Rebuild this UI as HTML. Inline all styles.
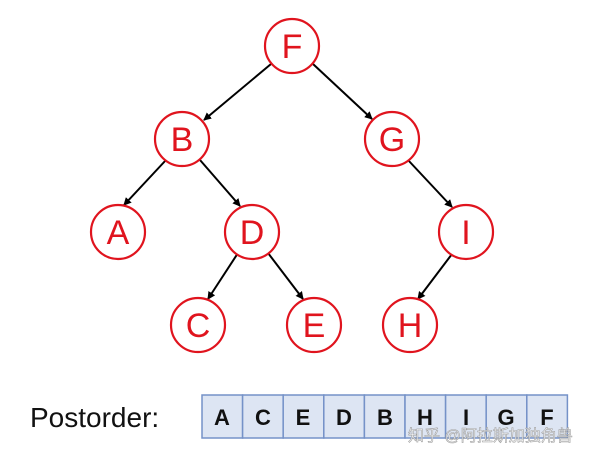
<!DOCTYPE html>
<html><head><meta charset="utf-8"><style>
html,body{margin:0;padding:0;background:#fff;width:600px;height:458px;overflow:hidden}
</style></head><body>
<svg width="600" height="458" xmlns="http://www.w3.org/2000/svg">
<defs><marker id="a" markerWidth="8" markerHeight="8" refX="7" refY="4" orient="auto" markerUnits="userSpaceOnUse"><path d="M0,0 L8,4 L0,8 z" fill="#000"/></marker></defs>
<g stroke="#000" stroke-width="2" marker-end="url(#a)">
<line x1="271" y1="64" x2="204" y2="120"/>
<line x1="313" y1="64" x2="372" y2="119"/>
<line x1="166" y1="160" x2="124" y2="205"/>
<line x1="200" y1="160" x2="240" y2="206"/>
<line x1="408" y1="160" x2="452" y2="207"/>
<line x1="238" y1="253" x2="208" y2="299"/>
<line x1="268" y1="253" x2="303" y2="299"/>
<line x1="452" y1="254" x2="418" y2="299"/>
</g>
<g fill="#fff" stroke="#e0141e" stroke-width="2.2">
<circle cx="292" cy="46" r="27"/><circle cx="182" cy="139" r="27"/><circle cx="392" cy="139" r="27"/>
<circle cx="118" cy="232" r="27"/><circle cx="252" cy="232" r="27"/><circle cx="466" cy="232" r="27"/>
<circle cx="198" cy="325" r="27"/><circle cx="314" cy="325" r="27"/><circle cx="410" cy="325" r="27"/>
</g>
<g fill="#e0141e" font-family="Liberation Sans, sans-serif" font-size="34" text-anchor="middle">
<text x="292" y="58">F</text><text x="182" y="151">B</text><text x="392" y="151">G</text>
<text x="118" y="244">A</text><text x="252" y="244">D</text><text x="466" y="244">I</text>
<text x="198" y="337">C</text><text x="314" y="337">E</text><text x="410" y="337">H</text>
</g>
<text x="30" y="427" font-family="Liberation Sans, sans-serif" font-size="28" fill="#111">Postorder:</text>
<g fill="#dde5f3" stroke="#7592c8" stroke-width="1.5">
<rect x="202" y="395" width="40.6" height="43"/><rect x="242.6" y="395" width="40.6" height="43"/><rect x="283.2" y="395" width="40.6" height="43"/>
<rect x="323.8" y="395" width="40.6" height="43"/><rect x="364.4" y="395" width="40.6" height="43"/><rect x="405" y="395" width="40.6" height="43"/>
<rect x="445.6" y="395" width="40.6" height="43"/><rect x="486.2" y="395" width="40.6" height="43"/><rect x="526.8" y="395" width="40.6" height="43"/>
</g>
<g fill="#111" font-family="Liberation Sans, sans-serif" font-size="22" font-weight="bold" text-anchor="middle">
<text x="222" y="425">A</text><text x="263" y="425">C</text><text x="303" y="425">E</text><text x="344" y="425">D</text>
<text x="385" y="425">B</text><text x="425" y="425">H</text><text x="466" y="425">I</text><text x="506" y="425">G</text><text x="547" y="425">F</text>
</g>
<text x="408" y="441" font-family="Liberation Sans, Noto Sans CJK SC, sans-serif" font-size="16" fill="#fff" stroke="#999" stroke-width="0.6" opacity="0.9">知乎 @阿拉斯加独角兽</text>
</svg>
</body></html>
